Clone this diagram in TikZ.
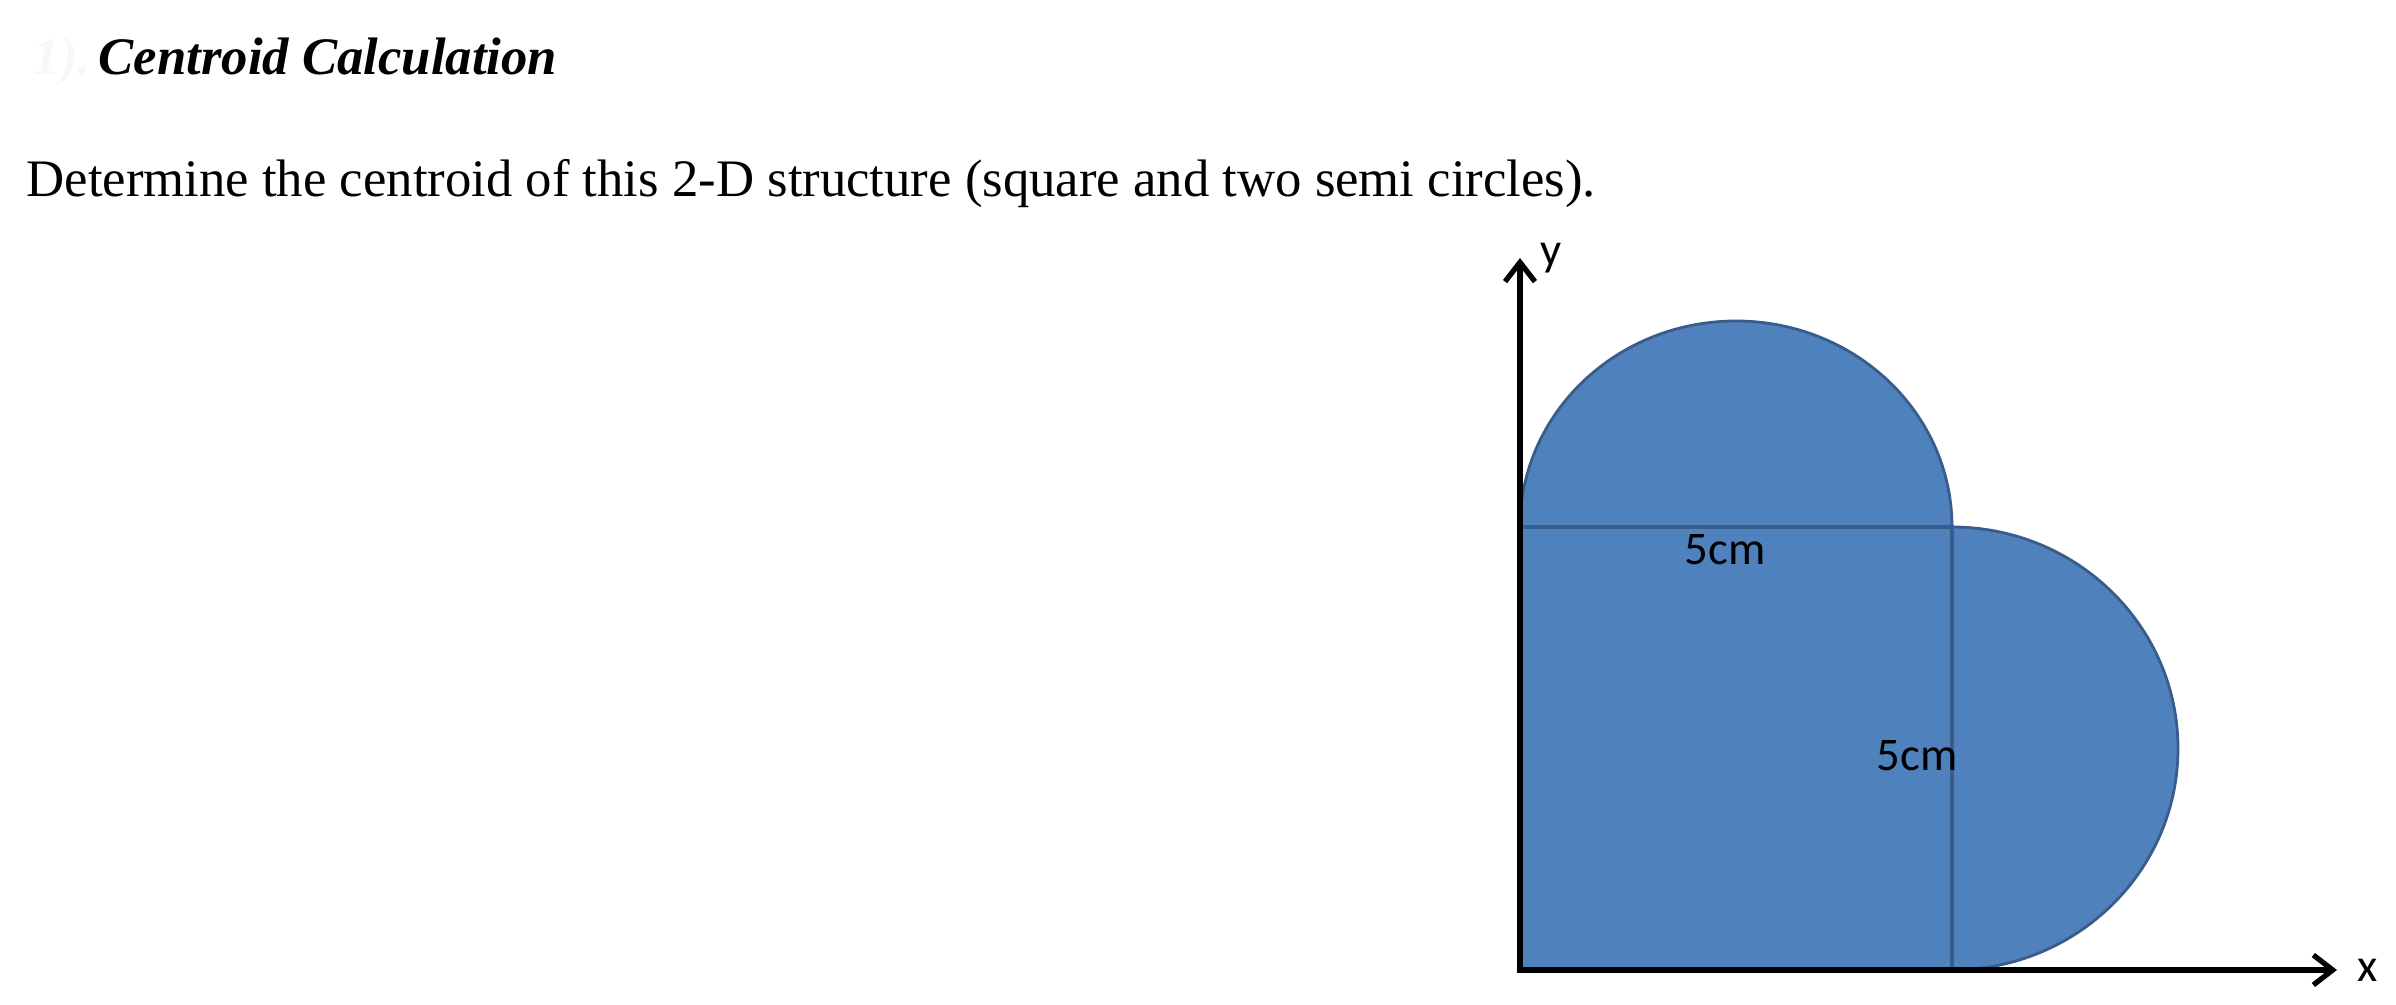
\documentclass[tikz,border=0pt]{standalone}
\usepackage{fontspec}
\setmainfont{Liberation Serif}
\newfontfamily\labelfont{Carlito}
\usetikzlibrary{arrows.meta,positioning}
\definecolor{shapeblue}{HTML}{4F81BD}
\definecolor{edgeblue}{HTML}{385D8A}
\begin{document}
\begin{tikzpicture}[
  axis/.style={line width=1.5pt,{Straight Barb[length=5.5pt,width=8.5pt]}-{Straight Barb[length=5.5pt,width=8.5pt]}},
  lbl/.style={font=\labelfont\fontsize{13.3}{16}\selectfont,inner sep=1.5pt},
  txt/.style={font=\fontsize{15}{18}\selectfont,anchor=base west,inner sep=0pt}]
\path[use as bounding box] (-15.20,-0.34) rectangle (8.76,9.70);
\node[txt,text=black!3] (num) at (-14.87,8.95) {\bfseries\itshape 1).};
\node[txt] (title) at (-14.22,8.95) {\bfseries\itshape Centroid Calculation};
\node[txt] (task) at (-14.94,7.73) {Determine the centroid of this 2-D structure (square and two semi circles).};
\coordinate (O) at (0,0);
\coordinate (tl) at (0,4.43);
\coordinate (tr) at (4.32,4.43);
\coordinate (br) at (4.32,0);
\coordinate (xend) at (8.17,0);
\coordinate (yend) at (0,7.12);
\filldraw[fill=shapeblue,draw=edgeblue,line width=0.8pt] (O) -- (tl) arc[start angle=180,end angle=0,x radius=2.16,y radius=2.06]
  arc[start angle=90,end angle=-90,x radius=2.26,y radius=2.215] -- cycle;
\draw[edgeblue,line width=1pt] (tl) -- (tr) -- (br);
\node[lbl] (top) at (2.05,4.20) {5cm};
\node[lbl] (side) at (3.97,2.14) {5cm};
\draw[axis] (yend) -- (O) -- (xend);
\node[lbl,right=0.15cm of xend] (xl) {x};
\node[lbl,right=0.15cm of yend] (yl) {y};
\end{tikzpicture}
\end{document}
